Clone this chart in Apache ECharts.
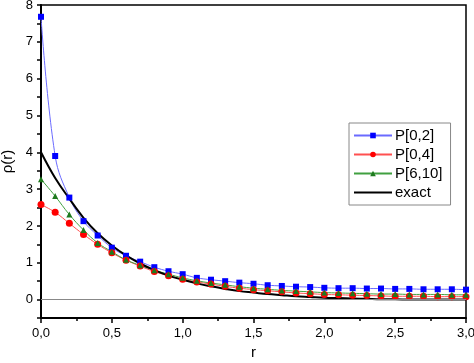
<!DOCTYPE html>
<html><head><meta charset="utf-8">
<script src="https://cdn.jsdelivr.net/npm/echarts@6/dist/echarts.min.js"></script>
<style>html,body{margin:0;padding:0;background:#fff}#c{width:474px;height:363px}</style>
</head><body><div id="c"></div>
<script>
const r = [0,0.1,0.2,0.3,0.4,0.5,0.6,0.7,0.8,0.9,1.0,1.1,1.2,1.3,1.4,1.5,1.6,1.7,1.8,1.9,2.0,2.1,2.2,2.3,2.4,2.5,2.6,2.7,2.8,2.9,3.0];
const p02 = [7.68,3.90,2.77,2.13,1.74,1.41,1.19,1.03,0.88,0.77,0.69,0.59,0.54,0.50,0.46,0.43,0.39,0.37,0.35,0.34,0.32,0.31,0.31,0.30,0.30,0.29,0.29,0.28,0.28,0.28,0.27];
const p04 = [2.58,2.37,2.07,1.77,1.50,1.27,1.07,0.91,0.76,0.65,0.55,0.48,0.42,0.36,0.31,0.27,0.24,0.21,0.18,0.16,0.14,0.13,0.12,0.11,0.10,0.09,0.09,0.09,0.08,0.08,0.08];
const p610 = [3.27,2.81,2.31,1.89,1.54,1.30,1.08,0.93,0.80,0.69,0.59,0.51,0.45,0.40,0.35,0.31,0.28,0.25,0.23,0.21,0.19,0.18,0.17,0.16,0.15,0.15,0.14,0.14,0.14,0.13,0.13];
const exact = [4.00,3.30,2.74,2.22,1.80,1.47,1.20,0.98,0.80,0.65,0.54,0.44,0.36,0.29,0.23,0.19,0.15,0.12,0.09,0.07,0.05,0.04,0.03,0.02,0.01,0.01,0.00,0.00,0.00,0.00,0.00];
const yTicks = [0,1,2,3,4,5,6,7,8];

const pairs = a => a.map((v,i)=>[r[i], v]);
const chart = echarts.init(document.getElementById('c'));
const font = 'Liberation Sans, Arial, sans-serif';
chart.setOption({
  animation:false,
  grid:{left:41,right:8,top:5,bottom:45,outerBoundsMode:'none',containLabel:false,
    show:true,borderColor:'#000',borderWidth:1.5},
  legend:{
    orient:'vertical', left:349, top:123,
    backgroundColor:'#fff', borderColor:'#888', borderWidth:1,
    padding:[5,8,5,4], itemGap:4, itemWidth:38, itemHeight:7,
    textStyle:{fontFamily:font,fontSize:15,color:'#000',padding:[0,0,0,-2]},
    data:['P[0,2]','P[0,4]','P[6,10]',
      {name:'exact',icon:'path://M0,0L38,0L38,2L0,2Z'}]
  },
  xAxis:{type:'value',min:0,max:3,interval:0.5,
    name:'r',nameLocation:'middle',nameGap:27,
    nameTextStyle:{fontFamily:font,fontSize:15,color:'#000'},
    axisLine:{onZero:false,lineStyle:{color:'#000',width:2}},
    axisTick:{length:5,lineStyle:{color:'#000',width:1.5}},
    minorTick:{show:true,splitNumber:2,length:3,lineStyle:{color:'#000',width:1.5}},
    splitLine:{show:false},
    axisLabel:{fontFamily:font,fontSize:13,color:'#000',margin:9,
      formatter:v=>v.toFixed(1).replace('.',',')}
  },
  yAxis:{type:'value',min:-0.5,max:8,interval:0.5,
    name:'ρ(r)',nameLocation:'middle',nameGap:25,nameRotate:90,
    nameTextStyle:{fontFamily:font,fontSize:15,color:'#000'},
    axisLine:{onZero:false,lineStyle:{color:'#000',width:2}},
    axisTick:{length:4,lineStyle:{color:'#000',width:1.5}},
    splitLine:{show:false},
    axisLabel:{fontFamily:font,fontSize:13,color:'#000',margin:8,
      formatter:v=> yTicks.includes(v) ? String(v) : ''}
  },
  series:[
    {name:'P[0,2]',type:'line',smooth:0.4,data:pairs(p02),symbol:'rect',symbolSize:6,
      lineStyle:{color:'#6a6aff',width:1},itemStyle:{color:'#0000ff'},
      markLine:{silent:true,symbol:'none',label:{show:false},
        lineStyle:{color:'#888',width:1,type:'solid'},data:[{yAxis:0}]}},
    {name:'P[0,4]',type:'line',smooth:0.4,data:pairs(p04),symbol:'circle',symbolSize:7,
      lineStyle:{color:'#ff5050',width:1},itemStyle:{color:'#ff0000'}},
    {name:'P[6,10]',type:'line',smooth:0.4,data:pairs(p610),symbol:'triangle',symbolSize:6,
      lineStyle:{color:'#40a040',width:1},itemStyle:{color:'#1e7a1e'}},
    {name:'exact',type:'line',smooth:0.4,data:pairs(exact),symbol:'none',
      lineStyle:{color:'#000',width:2},itemStyle:{color:'#000'}}
  ]
});
</script></body></html>
